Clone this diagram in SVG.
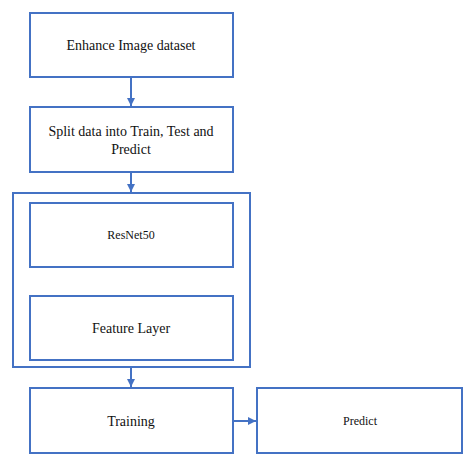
<svg xmlns="http://www.w3.org/2000/svg" width="474" height="466" viewBox="0 0 474 466">
<style>
.box{fill:#fff;stroke:#4472C4;stroke-width:2}
.t{font-family:'Liberation Serif','Times New Roman','DejaVu Serif',serif;fill:#111;text-anchor:middle}
.l{font-size:14px}
.s{font-size:12px}
.c{stroke:#4472C4;stroke-width:2;fill:none}
</style>
<defs>
<marker id="ah" viewBox="0 0 10 10" refX="10" refY="5" markerWidth="4" markerHeight="4" orient="auto" markerUnits="strokeWidth">
<path d="M0,0 L10,5 L0,10 z" fill="#4472C4"/>
</marker>
</defs>
<rect width="474" height="466" fill="#fff"/>
<g id="container"><rect class="box" x="13" y="193" width="237" height="174"/></g>
<g id="n1"><rect class="box" x="30" y="13" width="203" height="64"/><text class="t l" x="131" y="50">Enhance Image dataset</text></g>
<g id="n2"><rect class="box" x="30" y="107" width="203" height="65"/><text class="t l" x="131" y="136">Split data into Train, Test and</text><text class="t l" x="131" y="154">Predict</text></g>
<g id="n3"><rect class="box" x="30" y="203" width="203" height="64"/><text class="t s" x="131" y="239">ResNet50</text></g>
<g id="n4"><rect class="box" x="30" y="296" width="203" height="64"/><text class="t l" x="131" y="333">Feature Layer</text></g>
<g id="n5"><rect class="box" x="30" y="388" width="203" height="65"/><text class="t l" x="131" y="426">Training</text></g>
<g id="n6"><rect class="box" x="257" y="388" width="205" height="65"/><text class="t s" x="360" y="425">Predict</text></g>
<g id="connectors">
<line class="c" x1="131" y1="77" x2="131" y2="106" marker-end="url(#ah)"/>
<line class="c" x1="131" y1="172" x2="131" y2="192" marker-end="url(#ah)"/>
<line class="c" x1="131" y1="367" x2="131" y2="387" marker-end="url(#ah)"/>
<line class="c" x1="233" y1="421" x2="256" y2="421" marker-end="url(#ah)"/>
</g>
</svg>
